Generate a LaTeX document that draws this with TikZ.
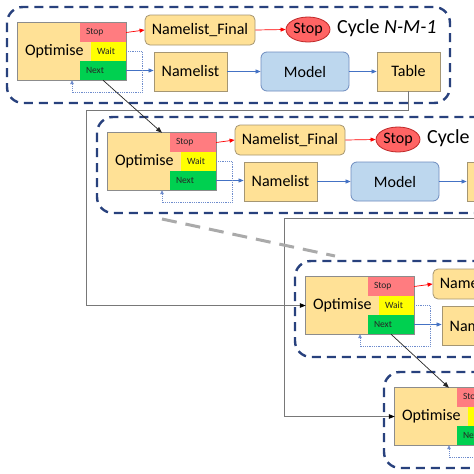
\documentclass[tikz,border=0pt]{standalone}
\usepackage{fontspec}
\setmainfont{Carlito}
\usetikzlibrary{arrows.meta,shapes.geometric}
\definecolor{optfill}{RGB}{255,225,150}
\definecolor{stopc}{RGB}{255,124,128}
\definecolor{waitc}{RGB}{255,255,0}
\definecolor{nextc}{RGB}{0,208,80}
\definecolor{bordc}{RGB}{140,140,140}
\definecolor{nlbord}{RGB}{165,150,115}
\definecolor{framec}{RGB}{40,65,125}
\definecolor{modfill}{RGB}{189,215,238}
\definecolor{modbord}{RGB}{110,140,190}
\definecolor{endfill}{RGB}{255,100,100}
\definecolor{endbord}{RGB}{190,40,40}
\definecolor{bluearr}{RGB}{68,114,196}
\definecolor{loopc}{RGB}{110,140,205}
\definecolor{connc}{RGB}{120,120,120}
\definecolor{dashg}{RGB}{170,170,170}
\tikzset{
  frame/.style={draw=framec, line width=2.4pt, dash pattern=on 9pt off 6pt, rounded corners=16pt},
  optbox/.style={fill=optfill, inner xsep=7pt, inner ysep=0pt, text width=94pt, align=left,
    minimum height=57pt, font=\fontsize{16}{18}\selectfont},
  cellbox/.style={inner xsep=6pt, inner ysep=0pt, text width=#1, align=left, minimum height=19pt,
    font=\fontsize{9.5}{11}\selectfont, text=black!85},
  boxborder/.style={draw=bordc, line width=0.8pt},
  nlbox/.style={draw=nlbord, fill=optfill, line width=0.8pt, inner sep=0pt, font=\fontsize{16}{18}\selectfont},
  modbox/.style={draw=modbord, fill=modfill, line width=0.8pt, inner sep=0pt, rounded corners=6pt,
    minimum width=88pt, minimum height=39pt, font=\fontsize{16}{18}\selectfont},
  endell/.style={ellipse, draw=endbord, fill=endfill, line width=0.8pt, inner sep=0pt,
    minimum width=44pt, minimum height=25pt, font=\fontsize{16}{18}\selectfont},
  redarr/.style={draw=red, line width=0.7pt, -{Triangle[length=5pt,width=4pt]}},
  bluearrow/.style={draw=bluearr, line width=0.7pt, -{Triangle[length=5pt,width=4pt]}},
  looparr/.style={draw=loopc, line width=0.8pt, densely dotted, -{Triangle[length=4pt,width=3.5pt]}},
  blackarr/.style={draw=black!85, line width=0.7pt, -{Triangle[length=6pt,width=4.5pt]}},
  connarr/.style={draw=connc, line width=1pt, -{Triangle[length=6pt,width=4.5pt,color=black]}},
  gapdash/.style={draw=dashg, line width=3pt, dash pattern=on 15pt off 9pt},
  cyclab/.style={anchor=west, inner sep=0pt, font=\fontsize{20}{24}\selectfont},
}
\newcommand\drawcyc[3]{%
\begin{scope}[shift={(#1,#2)}]
  \draw[frame] (7,7) rectangle (450,103);
  \node[optbox] (opt#3) at (72,51.5) {Optimise};
  \node[cellbox=34pt, fill=stopc] (stop#3) at (103,32.5) {Stop};
  \node[cellbox=23pt, fill=waitc] (wait#3) at (108.5,51.5) {Wait};
  \node[cellbox=34pt, fill=nextc] (next#3) at (103,70.5) {Next};
  \draw[boxborder] (opt#3.north west) rectangle (opt#3.south east);
  \node[nlbox, rounded corners=5pt, minimum width=110pt, minimum height=30pt] (nlf#3) at (200,30) {Namelist\_Final};
  \node[endell] (end#3) at (308,29.5) {Stop};
  \node[nlbox, minimum width=73pt, minimum height=39pt] (nl#3) at (190.5,71.5) {Namelist};
  \node[modbox] (mod#3) at (305,71.5) {Model};
  \node[nlbox, minimum width=63pt, minimum height=39pt] (tab#3) at (408.5,71.5) {Table};
  \coordinate (lp#3) at (142,92);
  \draw[redarr] (stop#3.east) -- (nlf#3.west);
  \draw[redarr] (nlf#3.east) -- (end#3.west);
  \draw[bluearrow] (next#3.east) -- (next#3.east -| nl#3.west);
  \draw[bluearrow] (nl#3.east) -- (mod#3.west);
  \draw[bluearrow] (mod#3.east) -- (tab#3.west);
  \draw[looparr] (wait#3.east) -| (lp#3) -| (opt#3.south);
\end{scope}}
\begin{document}
\begin{tikzpicture}[x=1pt,y=-1pt]
  \useasboundingbox (0,0) rectangle (474,474);
  \clip (0,0) rectangle (474,474);
  \fill[white] (0,0) rectangle (474,474);
  \drawcyc{0}{0}{a}
  \node[cyclab] (laba) at (337,28) {Cycle \textit{N-M-1}};
  \drawcyc{90}{110}{b}
  \node[cyclab] (labb) at (427,138) {Cycle \textit{N-M}};
  \drawcyc{288}{254}{c}
  \drawcyc{377}{365}{d}
  % connectors between cycles
  \coordinate (ca) at (86,110.5);
  \coordinate (cb) at (284,218.5);
  \draw[connarr] (taba.south) |- (ca) |- (optc.west);
  \draw[connarr] (tabb.south) |- (cb) |- (optd.west);
  \draw[blackarr] (nexta.south) -- (optb.north);
  \draw[blackarr] (nextc.south) -- (optd.north);
  \coordinate (ga) at (162,219);
  \coordinate (gb) at (335,256);
  \draw[gapdash] (ga) -- (gb);
\end{tikzpicture}
\end{document}
